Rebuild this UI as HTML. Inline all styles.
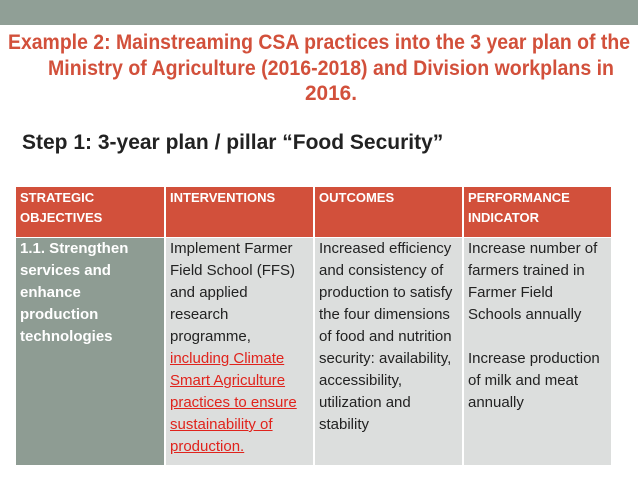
<!DOCTYPE html>
<html><head><meta charset="utf-8"><style>
body{margin:0;width:638px;height:478px;background:#fff;position:relative;overflow:hidden;font-family:"Liberation Sans",sans-serif}
.band{position:absolute;left:0;top:0;width:638px;height:25px;background:#909f96}
.cell{position:absolute;box-sizing:border-box;padding:0 4px}
.hd{background:#d2503b;color:#fff;font-weight:bold;font-size:13px;line-height:20px;padding-top:1px;top:187px;height:50px}
.bd{top:238px;height:227px;font-size:15px;line-height:22px;color:#222;padding-top:0;background:#dcdedd}
.red{color:#e0231c;text-decoration:underline}
</style></head><body>
<div class="band"></div>
<svg width="638" height="110" style="position:absolute;left:0;top:0">
<g font-family="Liberation Sans Narrow, Liberation Sans, sans-serif" font-weight="bold" font-size="21" fill="#d2503b">
<text x="8" y="49" textLength="622" lengthAdjust="spacingAndGlyphs">Example 2: Mainstreaming CSA practices into the 3 year plan of the</text>
<text x="48" y="75" textLength="566" lengthAdjust="spacingAndGlyphs">Ministry of Agriculture (2016-2018) and Division workplans  in</text>
<text x="305" y="100" textLength="52" lengthAdjust="spacingAndGlyphs">2016.</text>
</g></svg>
<div style="position:absolute;left:22px;top:131px;font-size:21px;font-weight:bold;color:#222;white-space:nowrap">Step 1: 3-year plan / pillar “Food Security”</div>
<div class="cell hd" style="left:16px;width:148px">STRATEGIC<br>OBJECTIVES</div>
<div class="cell hd" style="left:166px;width:147px">INTERVENTIONS</div>
<div class="cell hd" style="left:315px;width:147px">OUTCOMES</div>
<div class="cell hd" style="left:464px;width:147px">PERFORMANCE<br>INDICATOR</div>
<div class="cell bd" style="left:16px;width:148px;background:#8e9c93;color:#fff;font-weight:bold">1.1. Strengthen<br>services and<br>enhance<br>production<br>technologies</div>
<div class="cell bd" style="left:166px;width:147px;white-space:nowrap">Implement Farmer<br>Field School (FFS)<br>and applied<br>research<br>programme,<br><span class="red">including  Climate<br>Smart Agriculture<br>practices to ensure<br>sustainability of<br>production.</span></div>
<div class="cell bd" style="left:315px;width:147px;white-space:nowrap">Increased efficiency<br>and consistency of<br>production to satisfy<br>the four dimensions<br>of food and nutrition<br>security: availability,<br>accessibility,<br>utilization and<br>stability</div>
<div class="cell bd" style="left:464px;width:147px;white-space:nowrap">Increase  number of<br>farmers trained in<br>Farmer Field<br>Schools annually<br><br>Increase production<br>of milk and meat<br>annually</div>
</body></html>
